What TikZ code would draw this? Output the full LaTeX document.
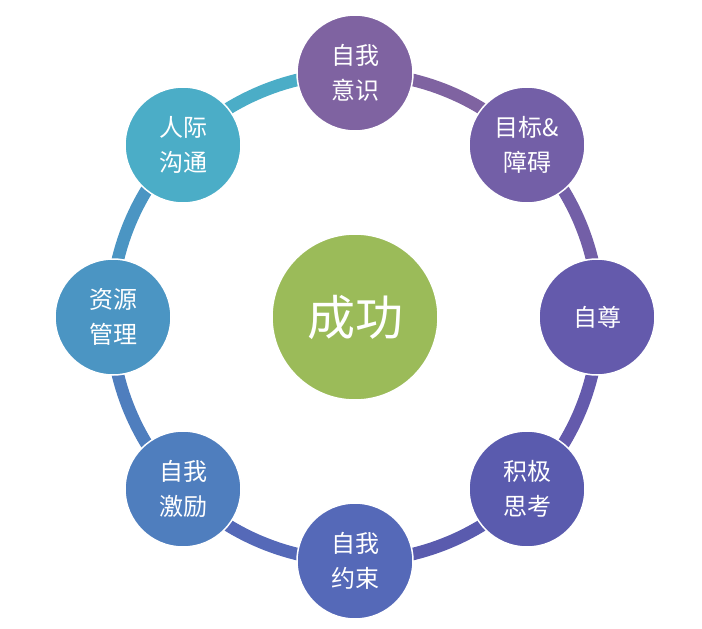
\documentclass[tikz,border=0pt]{standalone}
\usepackage{fontspec}
\newfontfamily\cjk{Noto Sans CJK SC}
\definecolor{cA}{HTML}{7F63A1}
\definecolor{cB}{HTML}{735FA7}
\definecolor{cC}{HTML}{645AAC}
\definecolor{cD}{HTML}{5A5BAE}
\definecolor{cE}{HTML}{5569B8}
\definecolor{cF}{HTML}{4F7EBE}
\definecolor{cG}{HTML}{4B95C3}
\definecolor{cH}{HTML}{4BADC7}
\definecolor{cCenter}{HTML}{9BBB59}
\tikzset{
  outer/.style={circle, minimum size=116pt, inner sep=0pt, draw=white, line width=1.5pt, text=white, align=center, font=\cjk\fontsize{24}{35}\selectfont},
  inner/.style={circle, minimum size=166pt, inner sep=0pt, draw=white, line width=1.5pt, fill=cCenter, text=white, font=\cjk\fontsize{48}{52}\selectfont},
  ringseg/.style={line width=12.5pt}
}
\begin{document}
\begin{tikzpicture}[x=1pt,y=-1pt]
\useasboundingbox[fill=white] (0,0) rectangle (702,629);
\coordinate (c) at (355,317);
% ring segments (clockwise on screen from each circle)
\foreach \a/\col in {-90/cA,-45/cB,0/cC,45/cD,90/cE,135/cF,180/cG,225/cH}{
  \draw[ringseg, draw=\col] (c) ++(\a:244) arc[start angle=\a, end angle=\a+45, radius=244];
}
\node[inner] (succ) at (c) {成功};
\node[outer, fill=cA] (n1) at (355,73) {自我\\意识};
\node[outer, fill=cB] (n2) at (527,145) {目标\&\\障碍};
\node[outer, fill=cC] (n3) at (597,317) {自尊};
\node[outer, fill=cD] (n4) at (527,489) {积极\\思考};
\node[outer, fill=cE] (n5) at (355,561) {自我\\约束};
\node[outer, fill=cF] (n6) at (183,489) {自我\\激励};
\node[outer, fill=cG] (n7) at (113,317) {资源\\管理};
\node[outer, fill=cH] (n8) at (183,145) {人际\\沟通};
\end{tikzpicture}
\end{document}
